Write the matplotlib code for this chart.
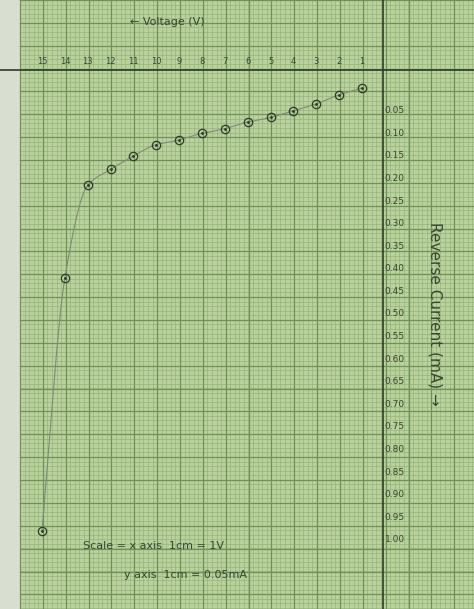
import matplotlib
matplotlib.use("Agg")
import matplotlib.pyplot as plt
import numpy as np

voltage = [1, 2, 3, 4, 5, 6, 7, 8, 9, 10, 11, 12, 13, 14, 15]
current = [0.0, 0.015, 0.035, 0.05, 0.065, 0.075, 0.09, 0.10, 0.115, 0.125, 0.15, 0.18, 0.215, 0.42, 0.98]
x_ticks = list(range(1, 16))
y_ticks = [round(0.05 * i, 2) for i in range(1, 21)]
y_labels = ["0.05", "0.10", "0.15", "0.20", "0.25", "0.30", "0.35", "0.40", "0.45", "0.50",
            "0.55", "0.60", "0.65", "0.70", "0.75", "0.80", "0.85", "0.90", "0.95", "1.00"]


def pchip(x, y, xn):
    x = np.asarray(x, float); y = np.asarray(y, float)
    h = np.diff(x); d = np.diff(y) / h
    m = np.zeros_like(y)
    for k in range(1, len(x) - 1):
        if d[k - 1] * d[k] > 0:
            w1 = 2 * h[k] + h[k - 1]; w2 = h[k] + 2 * h[k - 1]
            m[k] = (w1 + w2) / (w1 / d[k - 1] + w2 / d[k])
    m[0] = d[0]; m[-1] = d[-1]
    idx = np.clip(np.searchsorted(x, xn) - 1, 0, len(x) - 2)
    t = (xn - x[idx]) / h[idx]
    h00 = 2 * t**3 - 3 * t**2 + 1; h10 = t**3 - 2 * t**2 + t
    h01 = -2 * t**3 + 3 * t**2; h11 = t**3 - t**2
    return h00 * y[idx] + h10 * h[idx] * m[idx] + h01 * y[idx + 1] + h11 * h[idx] * m[idx + 1]


fig = plt.figure(figsize=(4.74, 6.09), dpi=100)
fig.patch.set_facecolor("#b9d19c")
bg = fig.add_axes([0, 0, 1, 1])
bg.set_xlim(0, 474); bg.set_ylim(609, 0); bg.axis("off")
bg.add_patch(plt.Rectangle((0, 0), 474, 609, color="#b9d19c"))
bg.add_patch(plt.Rectangle((0, 0), 20, 609, color="#d9dfd0"))
for p in np.arange(20, 474, 4.57):
    bg.plot([p, p], [0, 609], color="#8fae74", lw=0.4)
for p in np.arange(0, 609, 4.57):
    bg.plot([20, 474], [p, p], color="#8fae74", lw=0.4)
for p in np.arange(20, 474, 22.86):
    bg.plot([p, p], [0, 609], color="#6e9258", lw=0.9)
for p in np.arange(0, 609, 22.86):
    bg.plot([20, 474], [p, p], color="#6e9258", lw=0.9)

ax = fig.add_axes([0, 0, 1, 1])
ax.patch.set_alpha(0)
ax.axis("off")
ax.set_xlim(16.84, -3.9)
ax.set_ylim(1.153, -0.195)

ax.axhline(-0.04, color="#2f3a2a", lw=1.2)
ax.axvline(0.08, color="#2f3a2a", lw=1.2)
for v in x_ticks:
    ax.text(v, -0.048, str(v), ha="center", va="bottom", fontsize=6, color="#3a4535")
for y, lab in zip(y_ticks, y_labels):
    ax.text(0.0, y, lab, ha="left", va="center", fontsize=6.5, color="#3a4535")

fine = np.linspace(1, 15, 400)
ax.plot(fine, pchip(voltage, current, fine), color="#7f8a78", lw=0.8)
ax.plot(voltage, current, "o", ms=6, mfc="none", mec="#2f3a2a", mew=0.9)
ax.plot(voltage, current, ".", ms=2, color="#2f3a2a")

ax.text(9.5, -0.14, "← Voltage (V)", fontsize=8, color="#3a4535", ha="center")
ax.text(-2.2, 0.5, "Reverse Current (mA) →", rotation=-90, fontsize=11,
        color="#3a4535", ha="center", va="center")
ax.text(13.2, 1.02, "Scale = x axis  1cm = 1V", fontsize=8, color="#3a4535")
ax.text(11.4, 1.085, "y axis  1cm = 0.05mA", fontsize=8, color="#3a4535")

fig.savefig("out.png", dpi=100)
